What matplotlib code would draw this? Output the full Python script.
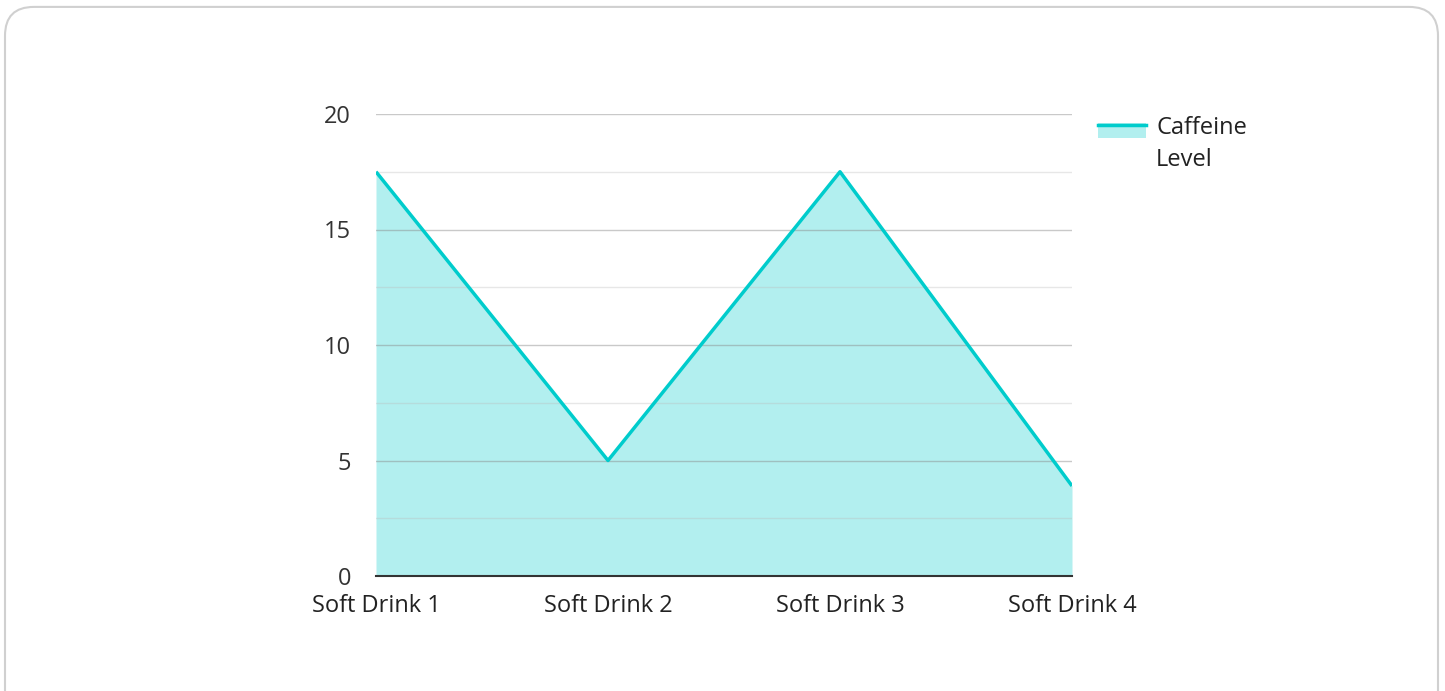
import numpy as np
import matplotlib.pyplot as plt
from matplotlib.patches import FancyBboxPatch, Rectangle
from matplotlib.lines import Line2D

plt.rcParams['font.family'] = ['Open Sans', 'DejaVu Sans']

# data
drinks = ['Soft Drink 1', 'Soft Drink 2', 'Soft Drink 3', 'Soft Drink 4']
caffeine = [17.5, 5, 17.5, 3.9]
series_name = 'Caffeine\nLevel'

line_color = '#00cccc'
fill_color = '#b2efef'

W, H = 1445, 691
fig = plt.figure(figsize=(W / 100, H / 100), dpi=100)

# card border
card = FancyBboxPatch((5 / W, -0.05), 1433 / W, 1.04,
                      boxstyle='round,pad=0,rounding_size=0.02',
                      transform=fig.transFigure, facecolor='none',
                      edgecolor='#d0d0d0', linewidth=1.5, mutation_aspect=W / H,
                      zorder=-1)
fig.patches.append(card)

ax = fig.add_axes([376 / W, (H - 576) / H, (1072 - 376) / W, (576 - 114) / H])
ax.set_facecolor('none')

x = np.arange(len(drinks))
ax.fill_between(x, caffeine, 0, color=fill_color, linewidth=0, zorder=1)
ax.plot(x, caffeine, color=line_color, linewidth=2.5, zorder=3, solid_capstyle='butt')

ax.set_xlim(0, len(drinks) - 1)
ax.set_ylim(0, 20)
ax.set_xticks(x)
ax.set_xticklabels(drinks, fontsize=17, color='#222222')
ax.set_yticks([0, 5, 10, 15, 20])
ax.set_yticklabels(['0', '5', '10', '15', '20'], fontsize=17, color='#333333')

# gridlines
for v in [5, 10, 15, 20]:
    ax.axhline(v, color='#888888', alpha=0.45, linewidth=1, zorder=2)
for v in [2.5, 7.5, 12.5, 17.5]:
    ax.axhline(v, color='#bbbbbb', alpha=0.35, linewidth=1, zorder=2)

for s in ['top', 'right', 'left']:
    ax.spines[s].set_visible(False)
ax.spines['bottom'].set_color('#333333')
ax.spines['bottom'].set_linewidth(1.5)
ax.spines['bottom'].set_zorder(4)
ax.tick_params(axis='both', which='both', length=0)
ax.tick_params(axis='y', pad=18)
ax.tick_params(axis='x', pad=13)

# legend (drawn by hand: filled swatch with the line along its top)
fig.add_artist(Rectangle((1098 / W, 1 - 138 / H), 48 / W, 15 / H,
                         transform=fig.transFigure, facecolor=fill_color,
                         edgecolor='none'))
fig.add_artist(Line2D([1098 / W, 1146 / W], [1 - 125 / H, 1 - 125 / H],
                      transform=fig.transFigure, color=line_color, linewidth=2.5))
fig.text(1156 / W, 1 - 116 / H, series_name, fontsize=17, color='#222222',
         va='top', ha='left', linespacing=1.45)

fig.savefig('out.png', dpi=100)
